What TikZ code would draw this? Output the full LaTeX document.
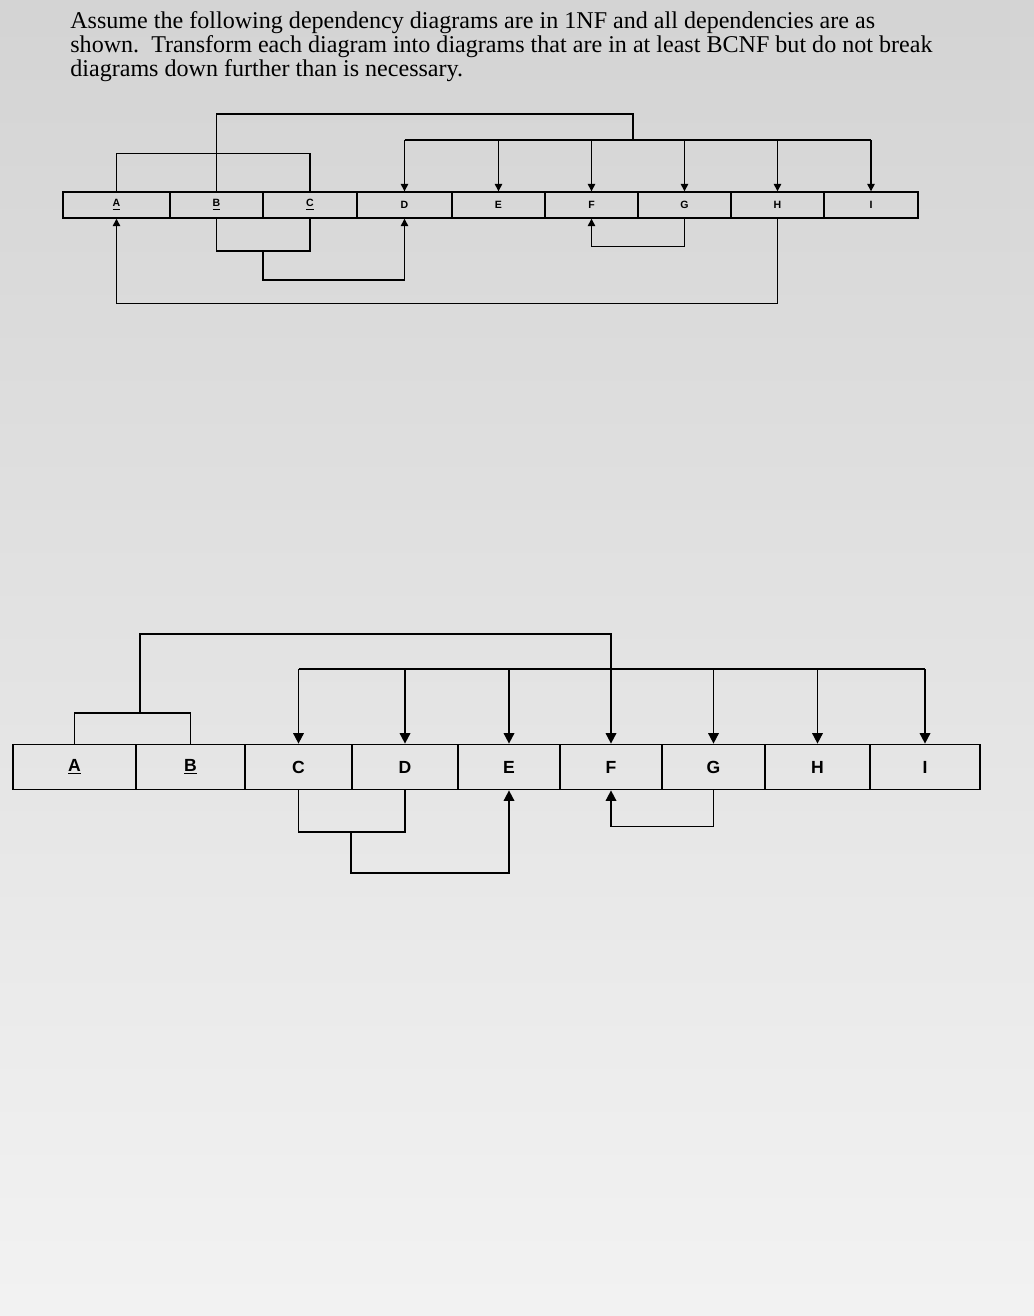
\documentclass[tikz,border=0pt]{standalone}
\usepackage{fontspec}
\setmainfont{Liberation Serif}
\setsansfont{Liberation Sans}
\usetikzlibrary{arrows.meta}

\tikzset{
	attr/.style={draw, inner sep=0pt, line width=0.8pt},
	tattr/.style={attr, minimum height=0.52cm, font=\sffamily\bfseries\fontsize{6}{6}\selectfont},
	battr/.style={attr, minimum height=0.9cm, line width=1pt, font=\sffamily\bfseries\fontsize{10}{10}\selectfont},
	tdep/.style={line width=0.8pt},
	tdeparr/.style={tdep, -{Triangle[length=0.15cm,width=0.15cm]}},
	bdep/.style={line width=1pt},
	bdeparr/.style={bdep, -{Triangle[length=0.21cm,width=0.21cm]}}
}

\begin{document}
\begin{tikzpicture}[x=0.02cm, y=-0.02cm]
	\shade[top color=black!17, bottom color=black!5] (0,0) rectangle (1034,1316);
	\useasboundingbox (0,0) rectangle (1034,1316);
	\node[anchor=north west, align=left, inner sep=0pt, font=\fontsize{13.7}{13.6}\selectfont] (task) at (70,11)
		{Assume the following dependency diagrams are in 1NF and all dependencies are as\\
		shown.\ \ Transform each diagram into diagrams that are in at least BCNF but do not break\\
		diagrams down further than is necessary.};
	% first diagram
	\foreach \n/\l/\r/\t in {A/63/170/{\underline{A}}, B/170/263/{\underline{B}}, C/263/357/{\underline{C}},
		D/357/452/D, E/452/545/E, F/545/638/F, G/638/731/G, H/731/824/H, I/824/918/I}
		\node[tattr, minimum width={(\r-\l)*0.02cm}] (t\n) at ({(\l+\r)/2},205) {\t};
	\coordinate (tBus) at (0,140);
	\coordinate (tHigh) at (633,114);
	\coordinate (tBC) at (263,251);
	\draw[tdep] (tA.north) -- ++(0,-38) -| (tC.north);
	\draw[tdep] (tB.north) |- (tHigh) -- (tHigh |- tBus);
	\draw[tdep] (tBus -| tD.north) -- (tBus -| tI.north);
	\foreach \n in {D,E,F,G,H,I}
		\draw[tdeparr] (tBus -| t\n.north) -- (t\n.north);
	\draw[tdep] (tB.south) |- (tBC) -| (tC.south);
	\draw[tdeparr] (tBC) -- ++(0,29) -| (tD.south);
	\draw[tdeparr] (tG.south) -- ++(0,28) -| (tF.south);
	\draw[tdeparr] (tH.south) -- ++(0,85) -| (tA.south);
	% second diagram
	\foreach \n/\l/\r/\t in {A/13/136/{\underline{A}}, B/136/245/{\underline{B}}, C/245/352/C,
		D/352/458/D, E/458/560/E, F/560/662/F, G/662/765/G, H/765/870/H, I/870/980/I}
		\node[battr, minimum width={(\r-\l)*0.02cm}] (b\n) at ({(\l+\r)/2},767) {\t};
	\coordinate (bBus) at (0,669);
	\coordinate (bHigh) at (0,634);
	\coordinate (bAB) at (140,713);
	\coordinate (bCD) at (351,832);
	\draw[bdep] (bA.north) |- (bAB) -| (bB.north);
	\draw[bdeparr] (bAB) |- (bHigh -| bF.north) -- (bF.north);
	\draw[bdep] (bBus -| bC.north) -- (bBus -| bI.north);
	\foreach \n in {C,D,E,G,H,I}
		\draw[bdeparr] (bBus -| b\n.north) -- (b\n.north);
	\draw[bdep] (bC.south) |- (bCD) -| (bD.south);
	\draw[bdeparr] (bCD) -- ++(0,41) -| (bE.south);
	\draw[bdeparr] (bG.south) -- ++(0,36) -| (bF.south);
\end{tikzpicture}
\end{document}
